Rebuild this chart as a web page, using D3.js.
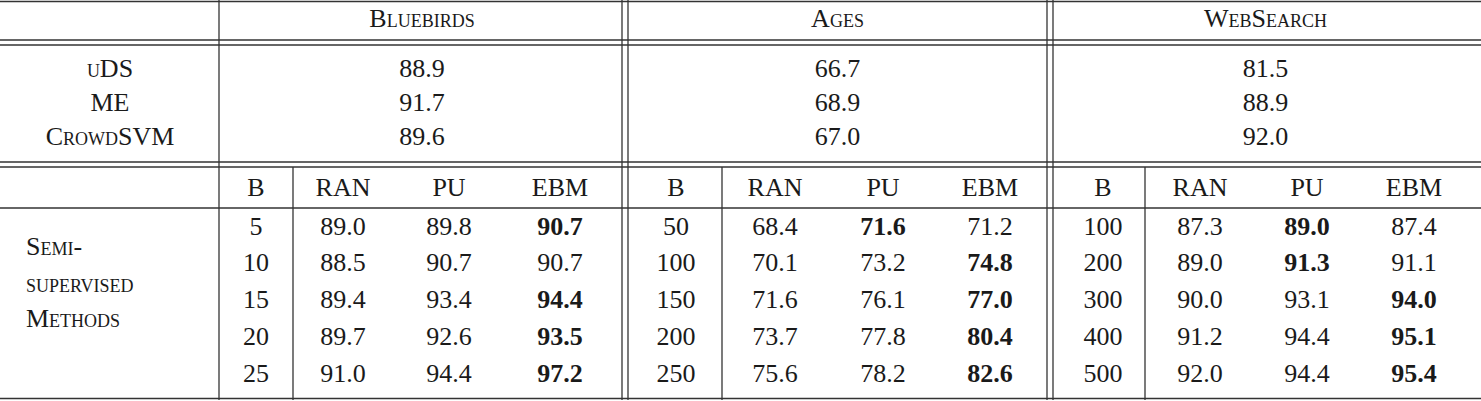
<!DOCTYPE html>
<html><head><meta charset="utf-8">
<script src="https://cdn.jsdelivr.net/npm/d3@7"></script>
<style>body{margin:0;background:#fff}</style>
</head><body><svg id="c" width="1481" height="401"></svg>
<script>
// table data
var datasets = ["Bluebirds", "Ages", "WebSearch"];
var baselines = ["uDS", "ME", "CrowdSVM"];
var baselineVals = [["88.9", "66.7", "81.5"], ["91.7", "68.9", "88.9"], ["89.6", "67.0", "92.0"]];
var subCols = ["B", "RAN", "PU", "EBM"];
var budgets = [[5, 10, 15, 20, 25], [50, 100, 150, 200, 250], [100, 200, 300, 400, 500]];
var ran = [["89.0", "88.5", "89.4", "89.7", "91.0"], ["68.4", "70.1", "71.6", "73.7", "75.6"], ["87.3", "89.0", "90.0", "91.2", "92.0"]];
var pu = [["89.8", "90.7", "93.4", "92.6", "94.4"], ["71.6", "73.2", "76.1", "77.8", "78.2"], ["89.0", "91.3", "93.1", "94.4", "94.4"]];
var ebm = [["90.7", "90.7", "94.4", "93.5", "97.2"], ["71.2", "74.8", "77.0", "80.4", "82.6"], ["87.4", "91.1", "94.0", "95.1", "95.4"]];
// which column (1=RAN,2=PU,3=EBM, 0=none) is bold per row
var boldCol = [[3, 0, 3, 3, 3], [2, 3, 3, 3, 3], [2, 2, 3, 3, 3]];

var FONT = "'Liberation Serif', 'Times New Roman', Times, 'DejaVu Serif', serif";
var svg = d3.select("#c");
var blockStart = d3.scaleOrdinal().domain(datasets).range([219, 625, 1050]);
var blockEnd = d3.scaleOrdinal().domain(datasets).range([625, 1050, 1481]);
var colPx = [[37, 124, 230, 341], [51, 150, 258, 365], [53, 150, 257, 364]];
var sepPx = [74, 97, 95];
var xc = function(di, ci) { return blockStart(datasets[di]) + colPx[di][ci]; };
var yBase = d3.scaleLinear().domain([0, 2]).range([68, 136]);
var yRow = d3.scaleLinear().domain([0, 4]).range([226, 373]);

function txt(x, y, s, opt) {
  opt = opt || {};
  var t = svg.append("text").attr("x", x).attr("y", y).attr("text-anchor", opt.anchor || "middle")
    .attr("dominant-baseline", "central").attr("font-family", FONT).attr("font-size", 26)
    .attr("fill", "#1a1a1a").text(s);
  if (opt.bold) t.attr("font-weight", "bold");
  if (opt.sc) t.attr("font-variant", "small-caps");
  return t;
}
function hline(y) { svg.append("line").attr("x1", 0).attr("x2", 1481).attr("y1", y).attr("y2", y).attr("stroke", "#333").attr("stroke-width", 1.5); }
function vline(x, y1, y2) { svg.append("line").attr("x1", x).attr("x2", x).attr("y1", y1).attr("y2", y2).attr("stroke", "#333").attr("stroke-width", 1.3); }

// horizontal rules
hline(1.5); hline(40); hline(45); hline(162); hline(167); hline(208); hline(398.5);
// vertical rules
vline(219, 0, 400);
datasets.forEach(function(d, i) {
  if (i > 0) { vline(blockStart(d) - 3, 0, 400); vline(blockStart(d) + 3, 0, 400); }
  vline(blockStart(d) + sepPx[i], 167, 400);
});

// headers
datasets.forEach(function(d, i) { txt((blockStart(d) + blockEnd(d)) / 2, 18, d, {sc: true}); });
baselines.forEach(function(b, r) {
  txt(110, yBase(r), b, {sc: r != 1});
  datasets.forEach(function(d, i) { txt((blockStart(d) + blockEnd(d)) / 2, yBase(r), baselineVals[r][i]); });
});
datasets.forEach(function(d, i) {
  subCols.forEach(function(c, ci) { txt(xc(i, ci), 187, c); });
  budgets[i].forEach(function(b, r) {
    var vals = [ran[i][r], pu[i][r], ebm[i][r]];
    txt(xc(i, 0), yRow(r), b);
    vals.forEach(function(v, k) { txt(xc(i, k + 1), yRow(r), v, {bold: boldCol[i][r] === k + 1}); });
  });
});
txt(26, 246, "Semi-", {anchor: "start", sc: true});
txt(26, 283, "supervised", {anchor: "start", sc: true});
txt(26, 318, "Methods", {anchor: "start", sc: true});
</script></body></html>
